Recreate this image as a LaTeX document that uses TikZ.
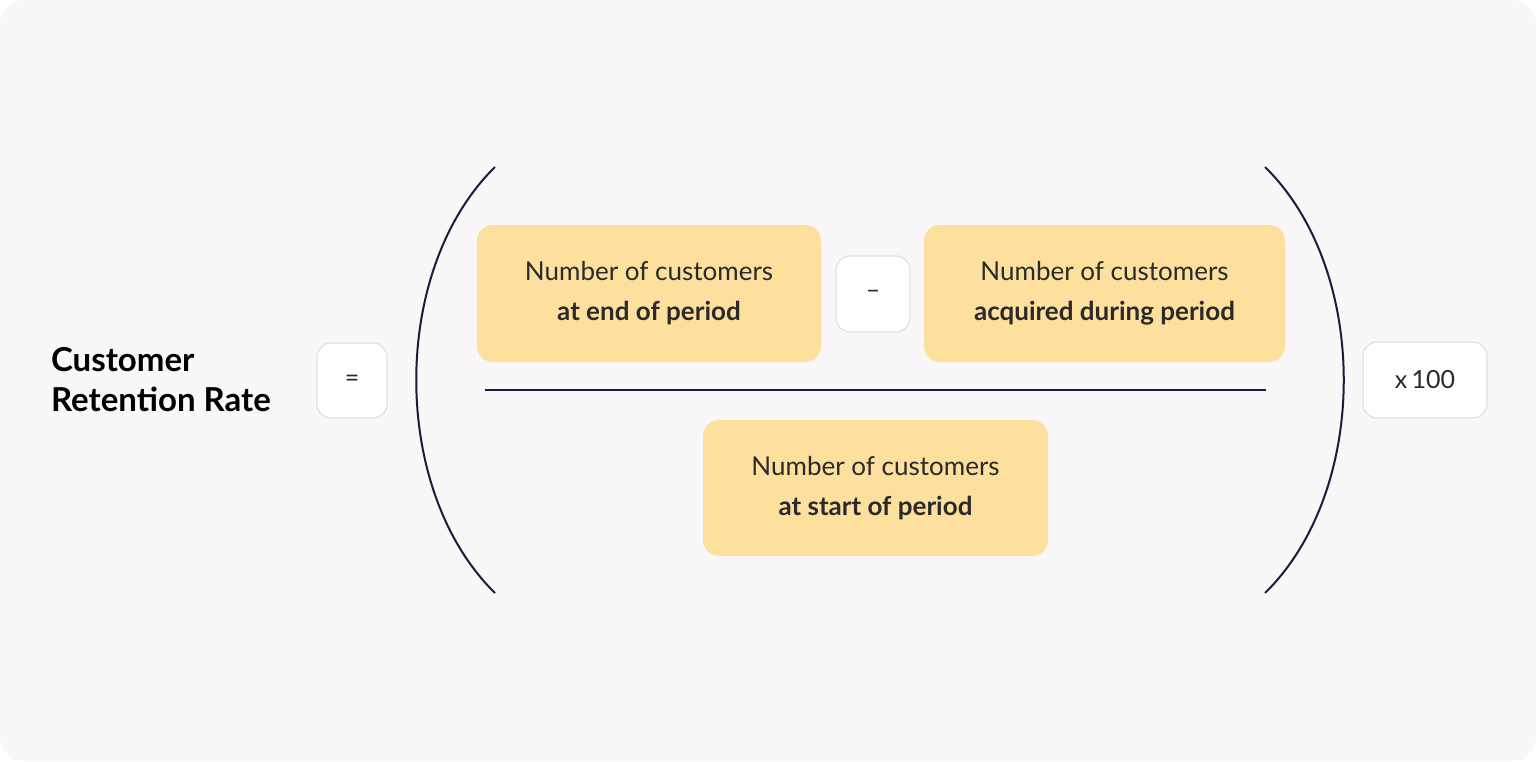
\documentclass[tikz,border=0pt]{standalone}
\usepackage{fontspec}
\setmainfont{Lato}
\definecolor{bgc}{HTML}{F9F7F8}
\definecolor{yel}{HTML}{FDDF9E}
\definecolor{navy}{HTML}{1E1A3F}
\definecolor{txt}{HTML}{2A2A2A}
\definecolor{bord}{HTML}{E2E0E2}
\begin{document}
\begin{tikzpicture}[x=0.5pt,y=-0.5pt,
  ybox/.style={fill=yel,rounded corners=8pt,text=txt,font=\fontsize{13}{20}\selectfont,align=center},
  wbox/.style={fill=white,draw=bord,line width=0.6pt,rounded corners=7pt,text=txt,font=\fontsize{12.5}{15}\selectfont},
  paren/.style={draw=navy,line width=1pt}]
\useasboundingbox (0,0) rectangle (1536,761);
\fill[white] (0,0) rectangle (1536,761);
\fill[bgc,rounded corners=12pt] (0,0) rectangle (1536,761);
\node[ybox,minimum width=172pt,minimum height=68.5pt] (a) at (649,293.5) {Number of customers\\\textbf{at end of period}};
\node[wbox,minimum width=37pt,minimum height=38pt] (m) at (873,294) {--};
\node[ybox,minimum width=180.5pt,minimum height=68.5pt] (b) at (1104.5,293.5) {Number of customers\\\textbf{acquired during period}};
\node[ybox,minimum width=172.5pt,minimum height=68pt] (c) at (875.5,488) {Number of customers\\\textbf{at start of period}};
\coordinate (l1) at (485,390); \coordinate (l2) at (1266,390);
\draw[navy,line width=1pt] (l1) -- (l2);
\node[wbox,minimum width=35pt,minimum height=37.5pt] (eq) at (352,380.5) {=};
\node[wbox,minimum width=62pt,minimum height=38pt] (x) at (1425,380) {x\,100};
\node[anchor=west,align=left,text=black,font=\fontsize{16.5}{20}\selectfont\bfseries] (t) at (44,380) {Customer\\Retention Rate};
\coordinate (p1) at (495,167); \coordinate (p2) at (495,593);
\draw[paren] (p1) .. controls (390,270) and (390,490) .. (p2);
\coordinate (q1) at (1265,167); \coordinate (q2) at (1265,593);
\draw[paren] (q1) .. controls (1370,270) and (1370,490) .. (q2);
\end{tikzpicture}
\end{document}
